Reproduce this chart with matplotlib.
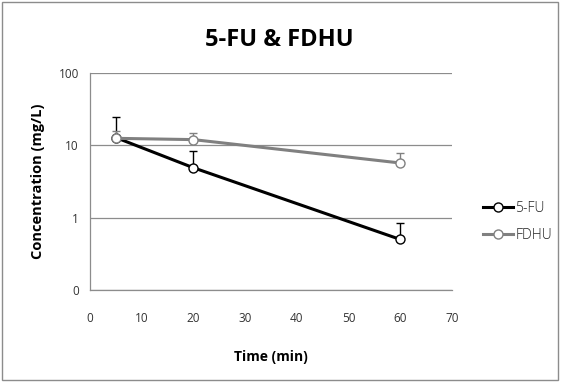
import matplotlib
matplotlib.use("Agg")
import matplotlib.pyplot as plt
from matplotlib.ticker import FixedLocator, FixedFormatter
from matplotlib.patches import Rectangle
from matplotlib.lines import Line2D

time = [5, 20, 60]
fu_values = [12.8, 4.9, 0.5]
fu_err_up = [12.0, 3.4, 0.35]
fdhu_values = [12.5, 12.0, 5.7]
fdhu_err_up = [3.5, 2.8, 2.1]
series_names = ["5-FU", "FDHU"]
x_ticks = [0, 10, 20, 30, 40, 50, 60, 70]
y_ticks = [0.1, 1, 10, 100]
y_labels = ["0", "1", "10", "100"]

plt.rcParams['font.family'] = ['Open Sans', 'DejaVu Sans']

fig = plt.figure(figsize=(5.61, 3.82), dpi=100)
ax = fig.add_axes([0.1604, 0.2408, 0.6453, 0.5681])

dark = "#000000"
grey = "#808080"

ax.errorbar(time, fu_values, yerr=[[0]*3, fu_err_up], color=dark, lw=2.2,
            marker="o", ms=6.5, mfc="white", mec=dark, mew=1.0,
            ecolor=dark, elinewidth=1.0, capsize=3, capthick=1.0, zorder=3)
ax.errorbar(time, fdhu_values, yerr=[[0]*3, fdhu_err_up], color=grey, lw=2.2,
            marker="o", ms=6.5, mfc="white", mec=grey, mew=1.0,
            ecolor=grey, elinewidth=1.0, capsize=3, capthick=1.0, zorder=4)

ax.set_yscale("log")
ax.set_ylim(0.1, 100)
ax.set_xlim(0, 70)
ax.yaxis.set_major_locator(FixedLocator(y_ticks))
ax.yaxis.set_major_formatter(FixedFormatter(y_labels))
ax.yaxis.set_minor_locator(FixedLocator([]))
ax.set_xticks(x_ticks)
ax.tick_params(axis="both", length=0, labelsize=8.5, colors="#333333", pad=8)
ax.tick_params(axis="x", pad=16)
ax.grid(axis="y", color="#8c8c8c", lw=0.9)
ax.set_axisbelow(True)
for s in ["top", "right"]:
    ax.spines[s].set_visible(False)
for s in ["left", "bottom"]:
    ax.spines[s].set_color("#8c8c8c")
    ax.spines[s].set_linewidth(0.9)

ax.set_xlabel("Time (min)", fontsize=10, fontweight="bold", labelpad=18)
ax.set_ylabel("Concentration (mg/L)", fontsize=10.5, fontweight="bold", labelpad=10)
fig.text(0.497, 0.895, "5-FU & FDHU", ha="center", va="center", fontsize=17, fontweight="bold")

handles = [
    Line2D([], [], color=dark, lw=2.2, marker="o", ms=6.5, mfc="white", mec=dark, mew=1.0),
    Line2D([], [], color=grey, lw=2.2, marker="o", ms=6.5, mfc="white", mec=grey, mew=1.0),
]
leg = ax.legend(handles, series_names, loc="center left", bbox_to_anchor=(1.05, 0.315),
                frameon=False, fontsize=10, handlelength=2.2, handletextpad=0.15,
                labelspacing=0.85)
for t in leg.get_texts():
    t.set_color("#222222")
    t.set_fontweight("light")

fig.patches.append(Rectangle((0.004, 0.006), 0.99, 0.988, transform=fig.transFigure,
                             fill=False, edgecolor="#8c8c8c", lw=1.0))

fig.savefig("out.png", dpi=100)
